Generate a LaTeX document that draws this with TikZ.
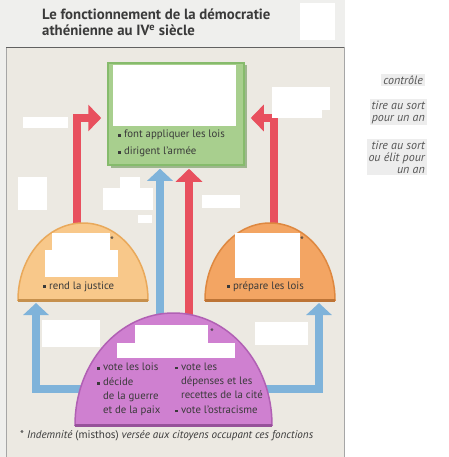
\documentclass[tikz,border=0pt]{standalone}
\usepackage{fontspec}
\setmainfont{PT Sans}
\usetikzlibrary{arrows.meta,shadows}
\definecolor{fondHaut}{HTML}{EFEFED}
\definecolor{fondCadre}{HTML}{ECE9E2}
\definecolor{vertStrat}{HTML}{A8CF8E}
\definecolor{vertBord}{HTML}{86BB6C}
\definecolor{orangeClair}{HTML}{F8C88A}
\definecolor{orangeClairBord}{HTML}{E9A95B}
\definecolor{orangeFonce}{HTML}{F3A563}
\definecolor{orangeFonceBord}{HTML}{DE8840}
\definecolor{violetEccl}{HTML}{CF80D0}
\definecolor{violetBord}{HTML}{B160B4}
\definecolor{rougeFleche}{HTML}{E8505E}
\definecolor{bleuFleche}{HTML}{7FB3DA}
\definecolor{texteGris}{HTML}{3A3A3A}
\definecolor{legendeGris}{HTML}{555555}
\newcommand{\puce}{\rule[0.25ex]{2.4pt}{2.4pt}\hspace{3.5pt}}
\newcommand{\suite}{\phantom{\puce}}

\begin{document}
\begin{tikzpicture}
[x=1pt,y=-1pt,
  every node/.style={inner sep=0pt,text=texteGris},
  blankBox/.style={fill=white},
  stratBox/.style={fill=vertStrat,draw=vertBord,line width=1.5pt,
    minimum width=136pt,minimum height=102pt,
    drop shadow={shadow xshift=2.5pt,shadow yshift=-2.5pt,fill=vertBord!80!black,opacity=0.6}},
  redArrow/.style={draw=rougeFleche,line width=8pt,-{Triangle[width=26pt,length=13pt]}},
  blueArrow/.style={draw=bleuFleche,line width=8pt,-{Triangle[width=25pt,length=12pt]}},
  texte/.style={font=\fontsize{10.8}{14}\selectfont},
  legende/.style={fill=black!7,inner sep=2pt,align=right,text=legendeGris,
    font=\fontsize{12}{12}\selectfont\itshape}]
\useasboundingbox (0,0) rectangle (448,457);
\fill[fondHaut] (0,0) rectangle (345,457);
\fill[fondCadre] (6,47) rectangle (344,457);
\draw[black!35] (6,457) -- (6,47) (344,47) -- (344,457);
\draw[texteGris!80,line width=0.8pt] (6,47) -- (344,47);
\node[anchor=north west,align=left,font=\fontsize{14.8}{15.5}\selectfont\bfseries] (titre) at (42,9)
  {Le fonctionnement de la démocratie\\athénienne au IV\textsuperscript{e} siècle};

\node[stratBox] (strateges) at (176,114) {};
\coordinate (helieeHaut) at (77,235);
\coordinate (bouleHaut) at (274,235);
\coordinate (helieeBas) at (36,300);
\coordinate (bouleBas) at (319,300);
\coordinate (ecclesiaBleu) at (160,330);
\coordinate (ecclesiaRouge) at (189,330);
\coordinate (ecclesiaGauche) at (90,389);
\coordinate (ecclesiaDroite) at (258,389);

\draw[redArrow,shorten >=6pt] (helieeHaut) |- ([yshift=-4pt]strateges.west);
\draw[redArrow,shorten >=6pt] (bouleHaut) |- ([yshift=-4pt]strateges.east);
\draw[blueArrow,shorten >=3pt] (ecclesiaBleu) -- (ecclesiaBleu |- strateges.south);
\draw[redArrow,shorten >=3pt] (ecclesiaRouge) -- (ecclesiaRouge |- strateges.south);
\draw[blueArrow,shorten >=3pt] (ecclesiaGauche) -| (helieeBas);
\draw[blueArrow,shorten >=3pt] (ecclesiaDroite) -| (bouleBas);

\filldraw[fill=orangeClair,draw=orangeClairBord,line width=1.5pt]
  (18,300) arc[start angle=180,end angle=0,x radius=65pt,y radius=77pt] -- cycle;
\draw[orangeClairBord!85!black,line width=3pt] (18,300) -- (148,300);
\filldraw[fill=orangeFonce,draw=orangeFonceBord,line width=1.5pt]
  (205,300) arc[start angle=180,end angle=0,x radius=65pt,y radius=77pt] -- cycle;
\draw[orangeFonceBord!85!black,line width=3pt] (205,300) -- (335,300);
\filldraw[fill=violetEccl,draw=violetBord,line width=1.5pt]
  (75,425) arc[start angle=180,end angle=0,x radius=98.5pt,y radius=112pt] -- cycle;
\draw[violetBord!85!black,line width=3pt] (75,425) -- (272,425);

\foreach \xa/\ya/\xb/\yb in {23/117/68/128, 18/177/47/210, 120/177/140/188,
  103/188/153/210, 138/215/152/223, 202/195/240/208, 272/87/330/110,
  272/110/322/118, 42/320/100/347, 255/322/308/345, 300/3/335/40,
  113/65/236/126, 52/233/110/250, 45/250/118/277, 235/233/300/278,
  135/325/208/343, 117/343/235/358}
  \fill[blankBox] (\xa,\ya) rectangle (\xb,\yb);

\node[texte] (etoileHeliee) at (112,241) {*};
\node[texte] (etoileBoule) at (302,241) {*};
\node[texte] (etoileEcclesia) at (212,333) {*};

\node[texte,anchor=base west] (strategesA) at (118,138) {\puce font appliquer les lois};
\node[texte,anchor=base west] (strategesB) at (118,155) {\puce dirigent l'armée};
\node[texte,anchor=base west] (helieeTexte) at (43,289) {\puce rend la justice};
\node[texte,anchor=base west] (bouleTexte) at (227,289) {\puce prépare les lois};
\node[texte,anchor=north west,align=left] (ecclesiaA) at (97,363)
  {\puce vote les lois\\[1pt]\puce décide\\\suite de la guerre\\\suite et de la paix};
\node[texte,anchor=north west,align=left] (ecclesiaB) at (175,363)
  {\puce vote les\\\suite dépenses et les\\\suite recettes de la cité\\[1pt]\puce vote l'ostracisme};

\node[anchor=base west,font=\fontsize{11.1}{12}\selectfont] (renvoi) at (20,438)
  {* \textit{Indemnité} (misthos) \textit{versée aux citoyens occupant ces fonctions}};

\node[legende,anchor=east] (controle) at (425,80) {contrôle};
\node[legende,anchor=east] (tirage) at (427,112) {tire au sort\\pour un an};
\node[legende,anchor=east] (election) at (427,157) {tire au sort\\ou élit pour\\un an};
\end{tikzpicture}
\end{document}
